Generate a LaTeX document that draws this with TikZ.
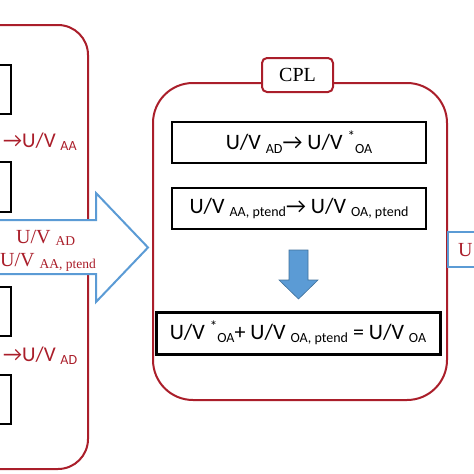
\documentclass[tikz,border=0pt]{standalone}
\usepackage{fontspec}
\setmainfont{Liberation Serif}
\setsansfont{Carlito}
\usetikzlibrary{positioning}
\definecolor{rojo}{RGB}{170,30,42}
\definecolor{azul}{RGB}{91,155,213}
\definecolor{azulosc}{RGB}{65,113,156}
% subindice y asterisco
\newcommand{\sbj}[1]{\raisebox{-0.35ex}{\fontsize{14}{14}\selectfont #1}}
\newcommand{\sbr}[1]{\raisebox{-0.3ex}{\fontsize{13.5}{13.5}\selectfont #1}}
\newcommand{\sbe}{\raisebox{0.75ex}{\fontsize{15}{15}\selectfont *}}
\begin{document}
\begin{tikzpicture}[x=1pt, y=-1pt,
    panel/.style={draw=rojo, line width=2pt, inner sep=0pt},
    caja/.style={draw=black, line width=2pt, fill=white, inner sep=0pt,
        font=\sffamily\fontsize{22}{22}\selectfont},
    rtxt/.style={text=rojo, inner sep=0pt, font=\sffamily\fontsize{21}{21}\selectfont},
    stxt/.style={text=rojo, inner sep=0pt, font=\rmfamily\fontsize{20}{20}\selectfont}
]
    \useasboundingbox (0,0) rectangle (474,474);
    \clip (0,0) rectangle (474,474);

    % Panel izquierdo y sus cajas
    \node[panel, rounded corners=30pt, minimum width=148pt, minimum height=444pt] (izq) at (14,247) {};
    \node[caja, minimum width=111pt, minimum height=49pt] (c1) at (-44.5,89.5) {};
    \node[caja, minimum width=111pt, minimum height=50pt] (c2) at (-44.5,187) {};
    \node[caja, minimum width=111pt, minimum height=49pt] (c3) at (-44.5,311.5) {};
    \node[caja, minimum width=111pt, minimum height=49pt] (c4) at (-44.5,399.5) {};
    \node[rtxt, anchor=base west] (t1) at (3,147) {→U/V \sbj{AA}};
    \node[rtxt, anchor=base west] (t2) at (3,361) {→U/V \sbj{AD}};

    % Flecha grande hacia el panel CPL
    \draw[draw=azul, line width=2pt, fill=white]
        (-20,220) -- (96,220) -- (96,193) -- (148,247.5) -- (96,302) -- (96,274) -- (-20,274) -- cycle;
    \node[stxt, anchor=base west] (e1) at (16,243) {U/V \sbr{AD}};
    \node[stxt, anchor=base west] (e2) at (0,266) {U/V \sbr{AA, ptend}};

    % Panel CPL
    \node[panel, rounded corners=40pt, minimum width=294pt, minimum height=317pt] (cpl) at (300,241.5) {};
    \node[panel, fill=white, rounded corners=5pt, minimum width=71pt, minimum height=34pt,
        font=\rmfamily\fontsize{20}{20}\selectfont] (tit) at (297.5,75) {CPL};
    \node[caja, minimum width=254pt, minimum height=41pt] (pa) at (299,142) {U/V \sbj{AD}→ U/V \sbe\sbj{OA}};
    \node[caja, minimum width=254pt, minimum height=41pt] (pb) at (299,208.5) {U/V \sbj{AA, ptend}→ U/V \sbj{OA, ptend}};
    \draw[draw=azulosc, line width=0.6pt, fill=azul]
        (289,250) -- (308,250) -- (308,280) -- (318,280) -- (298.5,299) -- (279,280) -- (289,280) -- cycle;
    \node[caja, line width=3pt, minimum width=284pt, minimum height=42pt] (pc) at (298,333)
        {U/V \sbe\sbj{OA}+ U/V \sbj{OA, ptend} = U/V \sbj{OA}};

    % Caja de salida a la derecha
    \node[draw=azul, line width=2pt, minimum width=80pt, minimum height=35pt, anchor=west,
        inner sep=0pt] (sal) at (447,249.5) {};
    \node[stxt, anchor=base west] (s1) at (458,256) {U};
\end{tikzpicture}
\end{document}
